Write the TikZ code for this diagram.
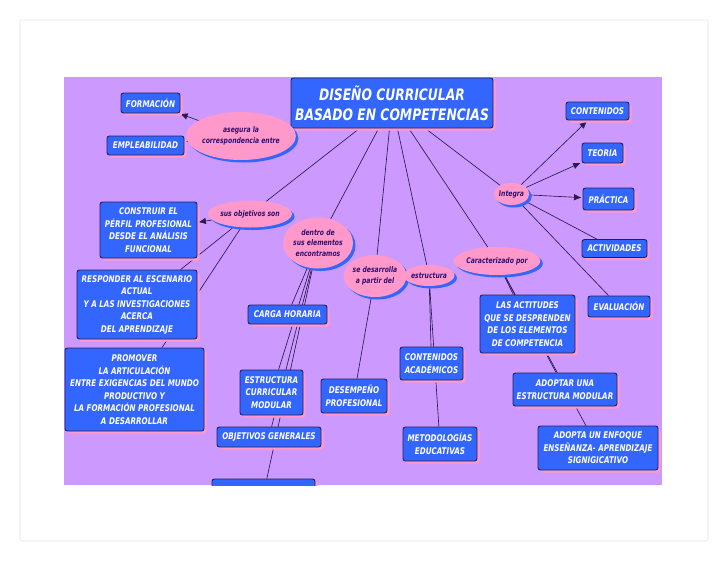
\documentclass[tikz,border=0pt]{standalone}
\usepackage{fontspec}
\newfontfamily\dv{DejaVu Sans}[FakeStretch=0.78]
\usetikzlibrary{shapes.geometric,shadows,arrows.meta,calc}
\definecolor{panelcol}{HTML}{CC99FF}
\definecolor{boxblue}{HTML}{3366FF}
\definecolor{boxedge}{HTML}{22205A}
\definecolor{shpink}{HTML}{FF99CC}
\definecolor{ellpink}{HTML}{FF99CC}
\definecolor{elltext}{HTML}{2E0F6E}
\definecolor{edgecol}{HTML}{2A1B4D}
\definecolor{pageedge}{HTML}{E4E4E4}
\pgfdeclarelayer{panellayer}
\pgfdeclarelayer{edgelayer}
\pgfsetlayers{panellayer,edgelayer,main}
\tikzset{
  box/.style={rectangle, rounded corners=2.5pt, draw=boxedge, line width=0.9pt,
    fill=boxblue, text=white, align=center, inner sep=0pt,
    font=\dv\bfseries\itshape\fontsize{9.2}{12.5}\selectfont,
    drop shadow={shadow xshift=2.5pt, shadow yshift=-2.5pt, fill=shpink, opacity=1}},
  titlebox/.style={box, font=\dv\bfseries\itshape\fontsize{15.8}{20}\selectfont},
  oval/.style={ellipse, fill=ellpink, draw=none, inner sep=0pt, align=center,
    text=elltext, font=\dv\bfseries\itshape\fontsize{7.8}{10.8}\selectfont,
    drop shadow={shadow xshift=2.5pt, shadow yshift=-2.5pt, fill=boxblue, opacity=1}},
  edge/.style={draw=edgecol, line width=0.65pt},
  arr/.style={edge, -{Latex[length=7.5pt,width=6.5pt]}, shorten >=1pt}
}
\begin{document}
\begin{tikzpicture}[x=1pt,y=-1pt]
\useasboundingbox (0,0) rectangle (728,563);
\begin{pgfonlayer}{panellayer}
  \draw[pageedge, line width=0.6pt, rounded corners=2pt] (20,20) rectangle (708,541);
  \fill[panelcol] (64,77) rectangle (662,485);
\end{pgfonlayer}

% nodes
\node[titlebox, minimum width=202pt, minimum height=50pt] (title) at (392,103) {DISEÑO CURRICULAR\\BASADO EN COMPETENCIAS};
\node[box, minimum width=59pt, minimum height=20pt] (formacion) at (150.5,103) {FORMACIÓN};
\node[box, minimum width=77pt, minimum height=19pt] (emple) at (145.5,145.5) {EMPLEABILIDAD};
\node[oval, minimum width=85pt, minimum height=48pt] (asegura) at (241,136) {asegura la\\correspondencia entre};
\node[box, minimum width=97pt, minimum height=56pt] (construir) at (148.5,230) {CONSTRUIR EL\\PÉRFIL PROFESIONAL\\DESDE EL ANÁLISIS\\FUNCIONAL};
\node[oval, minimum width=67pt, minimum height=27pt] (susobj) at (250,214) {sus objetivos son};
\node[box, minimum width=120pt, minimum height=69pt] (responder) at (137,304.5) {RESPONDER AL ESCENARIO\\ACTUAL\\Y A LAS INVESTIGACIONES\\ACERCA\\DEL APRENDIZAJE};
\node[box, minimum width=139pt, minimum height=83pt] (promover) at (134.5,389.5) {PROMOVER\\LA ARTICULACIÓN\\ENTRE EXIGENCIAS DEL MUNDO\\PRODUCTIVO Y\\LA FORMACIÓN PROFESIONAL\\A DESARROLLAR};
\node[box, minimum width=79pt, minimum height=19pt] (carga) at (287.5,314.5) {CARGA HORARIA};
\node[oval, minimum width=63pt, minimum height=51pt] (dentro) at (318,243) {dentro de\\sus elementos\\encontramos};
\node[oval, minimum width=54pt, minimum height=42pt] (desarrolla) at (375,276) {se desarrolla\\a partir del};
\node[oval, minimum width=42pt, minimum height=21pt] (estructura) at (429,275.5) {estructura};
\node[oval, minimum width=68pt, minimum height=28pt] (caract) at (497,261) {Caracterizado por};
\node[oval, minimum width=33pt, minimum height=22pt] (integra) at (511.5,194) {Integra};
\node[box, minimum width=63pt, minimum height=18pt] (contenidos) at (597.5,111) {CONTENIDOS};
\node[box, minimum width=41pt, minimum height=20pt] (teoria) at (602.5,153) {TEORIA};
\node[box, minimum width=51pt, minimum height=22pt] (practica) at (608.5,199) {PRÁCTICA};
\node[box, minimum width=65pt, minimum height=18pt] (actividades) at (614.5,248.5) {ACTIVIDADES};
\node[box, minimum width=62pt, minimum height=21pt] (evaluacion) at (619,306.5) {EVALUACIÓN};
\node[box, minimum width=95pt, minimum height=58pt] (actitudes) at (527.5,324) {LAS ACTITUDES\\QUE SE DESPRENDEN\\DE LOS ELEMENTOS\\DE COMPETENCIA};
\node[box, minimum width=104pt, minimum height=33pt] (adoptar) at (565,389.5) {ADOPTAR UNA\\ESTRUCTURA MODULAR};
\node[box, minimum width=120pt, minimum height=44pt] (adopta) at (598,448) {ADOPTA UN ENFOQUE\\ENSEÑANZA- APRENDIZAJE\\SIGNIGICATIVO};
\node[box, minimum width=63pt, minimum height=33pt] (contac) at (431.5,363.5) {CONTENIDOS\\ACADÉMICOS};
\node[box, minimum width=66pt, minimum height=34pt] (desemp) at (354,396) {DESEMPEÑO\\PROFESIONAL};
\node[box, minimum width=74pt, minimum height=34pt] (metod) at (440,444) {METODOLOGÍAS\\EDUCATIVAS};
\node[box, minimum width=63pt, minimum height=45pt] (estcur) at (271.5,392.5) {ESTRUCTURA\\CURRICULAR\\MODULAR};
\node[box, minimum width=104pt, minimum height=20pt] (objgen) at (269,437) {OBJETIVOS GENERALES};
\begin{scope}
  \clip (64,77) rectangle (662,485);
  \node[box, minimum width=103pt, minimum height=30pt] (bottombox) at (263.5,494) {};
\end{scope}

% connectors
\begin{pgfonlayer}{edgelayer}
  \draw[edge] (title) -- (asegura);
  \draw[edge] (title) -- (susobj);
  \draw[edge] (title) -- (dentro);
  \draw[edge] (title) -- (desarrolla);
  \draw[edge] (title) -- (estructura);
  \draw[edge] (title) -- (caract);
  \draw[edge] (title) -- (integra);
  \draw[arr] (asegura) -- (formacion);
  \draw[arr] (asegura) -- (emple);
  \draw[arr] (susobj) -- (construir);
  \draw[edge] (susobj) -- (responder);
  \draw[edge] (susobj) -- (promover);
  \draw[edge] (dentro) -- (carga);
  \draw[edge] (dentro) -- (estcur);
  \draw[edge] (dentro) -- (objgen);
  \draw[edge] (dentro) -- (bottombox);
  \draw[edge] (desarrolla) -- (desemp);
  \draw[edge] (estructura) -- (contac);
  \draw[edge] (estructura) -- (metod);
  \draw[edge] (caract) -- (actitudes);
  \draw[edge] (caract) -- (adoptar);
  \draw[edge] (caract) -- (adopta);
  \draw[arr] (integra) -- (contenidos);
  \draw[arr] (integra) -- (teoria);
  \draw[arr] (integra) -- (practica);
  \draw[edge] (integra) -- (actividades);
  \draw[edge] (integra) -- (evaluacion);
\end{pgfonlayer}
\end{tikzpicture}
\end{document}
